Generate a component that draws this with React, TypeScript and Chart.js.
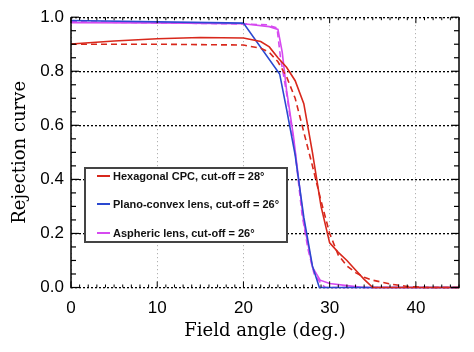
import { useEffect, useRef } from 'react';
import { Chart, registerables } from 'chart.js';
Chart.register(...registerables);

// Hexagonal CPC (solid)
const hexX = [0, 5, 10, 15, 20, 22, 23, 24, 25, 26, 27, 28, 29, 30, 31, 32, 33, 34, 35, 45];
const hexY = [0.901, 0.912, 0.92, 0.925, 0.923, 0.91, 0.89, 0.85, 0.815, 0.765, 0.68, 0.5, 0.3, 0.165, 0.13, 0.1, 0.065, 0.03, 0.0, 0.0];
// Hexagonal CPC (dashed)
const hexDX = [0, 10, 20, 22, 23, 24, 25, 26, 27, 28, 29, 30, 31, 32, 33, 34, 35, 37, 39, 41, 45];
const hexDY = [0.9, 0.9, 0.897, 0.885, 0.87, 0.835, 0.78, 0.7, 0.575, 0.45, 0.32, 0.2, 0.12, 0.08, 0.055, 0.038, 0.027, 0.013, 0.004, 0.0, 0.0];
// Plano-convex lens
const planoX = [0, 20, 24.2, 25, 26, 27, 28, 28.8, 45];
const planoY = [0.988, 0.978, 0.79, 0.66, 0.49, 0.26, 0.08, 0.0, 0.0];
// Aspheric lens (solid)
const asphX = [0, 10, 20, 23, 24, 24.5, 25, 25.8, 26.4, 27, 28, 28.9, 30, 32, 34, 45];
const asphY = [0.98, 0.979, 0.976, 0.965, 0.955, 0.87, 0.73, 0.56, 0.4, 0.24, 0.075, 0.027, 0.015, 0.007, 0.0, 0.0];
// Aspheric lens (dashed)
const asphDX = [0, 20, 22.7, 23.9, 24.3, 25, 26, 26.8, 27.5, 28.2, 29, 29.5, 45];
const asphDY = [0.983, 0.975, 0.972, 0.96, 0.85, 0.72, 0.5, 0.27, 0.14, 0.05, 0.015, 0.0, 0.0];

const legendLabels = [
  'Hexagonal CPC, cut-off = 28°',
  'Plano-convex lens, cut-off = 26°',
  'Aspheric lens, cut-off = 26°',
];

const RED = '#d8281c';
const BLUE = '#2a48d0';
const MAG = '#d64af0';
const legendColors = [RED, BLUE, MAG];

const pts = (xs: number[], ys: number[]) => xs.map((x, i) => ({ x, y: ys[i] }));

const framePlugin = {
  id: 'frame',
  afterDatasetsDraw(chart: any) {
    const { ctx, chartArea: a, scales } = chart;
    const xs = scales.x;
    const ys = scales.y;
    ctx.save();
    ctx.strokeStyle = '#000';
    ctx.lineWidth = 1.5;
    const line = (x1: number, y1: number, x2: number, y2: number) => {
      ctx.beginPath();
      ctx.moveTo(x1, y1);
      ctx.lineTo(x2, y2);
      ctx.stroke();
    };
    line(a.left, a.top, a.left, a.bottom + 0.75);
    line(a.right, a.top, a.right, a.bottom + 0.75);
    ctx.lineWidth = 1.2;
    for (let i = 0; i <= 20; i++) {
      const v = i * 0.05;
      const py = ys.getPixelForValue(v);
      const len = i % 4 === 0 ? 8 : 5;
      line(a.left, py, a.left + len, py);
      line(a.right, py, a.right - len, py);
    }
    ctx.lineWidth = 1;
    for (let v = 0; v <= 45; v++) {
      const px = xs.getPixelForValue(v);
      const len = v % 10 === 0 ? 6 : 3;
      line(px, a.bottom, px, a.bottom - len);
      line(px, a.top, px, a.top + len);
    }
    // legend
    const bx = 85, by = 168, bw = 202, bh = 74;
    ctx.fillStyle = '#fff';
    ctx.fillRect(bx, by, bw, bh);
    ctx.strokeStyle = '#444';
    ctx.lineWidth = 2;
    ctx.strokeRect(bx, by, bw, bh);
    ctx.font = 'bold 11px "Liberation Sans", Arial, sans-serif';
    ctx.textBaseline = 'middle';
    ctx.textAlign = 'left';
    const rowsY = [176, 204, 233];
    legendLabels.forEach((t, i) => {
      ctx.strokeStyle = legendColors[i];
      ctx.lineWidth = 2;
      line(97, rowsY[i], 110, rowsY[i]);
      ctx.fillStyle = '#111';
      ctx.fillText(t, 113, rowsY[i] + 0.5);
    });
    ctx.restore();
  },
};

export default function App() {
  const ref = useRef<HTMLCanvasElement>(null);
  useEffect(() => {
    if (!ref.current) return;
    const common = { pointRadius: 0, borderWidth: 1.6, tension: 0, clip: false as any, fill: false };
    const chart = new Chart(ref.current, {
      type: 'line',
      data: {
        datasets: [
          { label: 'hexd', data: pts(hexDX, hexDY), borderColor: RED, borderDash: [6, 4], ...common },
          { label: legendLabels[0], data: pts(hexX, hexY), borderColor: RED, ...common },
          { label: legendLabels[1], data: pts(planoX, planoY), borderColor: BLUE, ...common },
          { label: 'asphd', data: pts(asphDX, asphDY), borderColor: MAG, borderDash: [6, 4], ...common },
          { label: legendLabels[2], data: pts(asphX, asphY), borderColor: MAG, ...common },
        ],
      },
      options: {
        animation: false,
        responsive: true,
        maintainAspectRatio: false,
        layout: { padding: { top: 14, right: 15, left: 0, bottom: 0 } },
        plugins: { legend: { display: false }, tooltip: { enabled: false } },
        scales: {
          x: {
            type: 'linear',
            min: 0,
            max: 45,
            afterFit: (s: any) => { s.height = 64.5; },
            ticks: {
              stepSize: 10,
              includeBounds: false,
              color: '#000',
              padding: 11,
              maxRotation: 0,
              font: { family: '"Liberation Sans", Arial, sans-serif', size: 17 },
            },
            grid: { color: '#a0a0a0', lineWidth: 1, drawTicks: false },
            border: { display: false, dash: [1, 3] },
            title: {
              display: true,
              text: 'Field angle (deg.)',
              color: '#000',
              font: { family: '"DejaVu Serif", serif', size: 18 },
              padding: { top: 0, bottom: 10 },
            },
          },
          y: {
            type: 'linear',
            min: 0,
            max: 1.0,
            afterFit: (s: any) => { s.width = 71; },
            ticks: {
              stepSize: 0.2,
              color: '#000',
              padding: 7,
              callback: (v: any) => Number(v).toFixed(1),
              font: { family: '"Liberation Sans", Arial, sans-serif', size: 17 },
            },
            grid: { color: '#000', lineWidth: 1.3, drawTicks: false },
            border: { display: false, dash: [2, 2] },
            title: {
              display: true,
              text: 'Rejection curve',
              color: '#000',
              font: { family: '"DejaVu Serif", serif', size: 18 },
              padding: { top: 10, bottom: 0 },
            },
          },
        },
      },
      plugins: [framePlugin],
    });
    return () => chart.destroy();
  }, []);
  return (
    <div style={{ position: 'absolute', left: 0, top: 0, width: 474, height: 352, background: '#fff' }}>
      <canvas ref={ref} />
    </div>
  );
}
